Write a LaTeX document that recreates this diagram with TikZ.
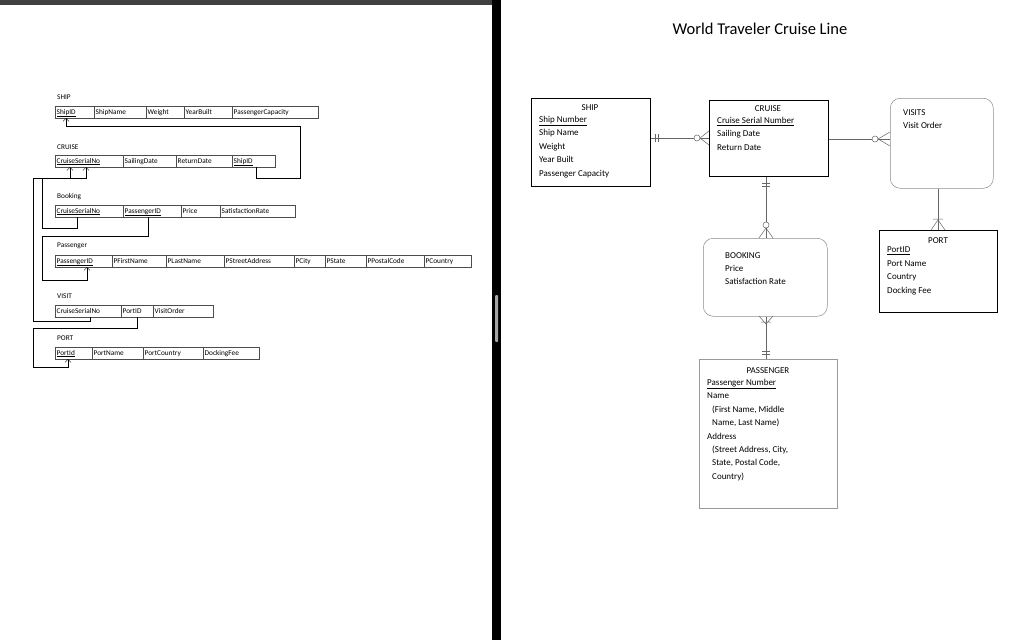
\documentclass[tikz,border=0pt]{standalone}
\usepackage{fontspec}
\setmainfont{Carlito}
\usetikzlibrary{arrows.meta}
\tikzset{
 cellbox/.style={draw=black!70,line width=0.4pt,minimum height=12pt,inner sep=1.5pt,text height=5.5pt,text depth=1.5pt,font=\fontsize{7.3}{8}\selectfont,anchor=west},
 ttl/.style={anchor=west,inner sep=0pt,font=\fontsize{7.3}{8}\selectfont},
 fk/.style={draw=black,line width=0.5pt,-{Straight Barb[length=3pt,width=6pt]}},
 ent/.style={draw=black,line width=0.6pt,anchor=north west,inner sep=0pt},
 soft/.style={draw=black!45,line width=0.5pt,rounded corners=10pt,anchor=north west,inner sep=0pt},
 etxt/.style={anchor=north west,inner sep=0pt,font=\fontsize{9}{13.4}\selectfont,align=left},
 rel/.style={draw=black!60,line width=0.5pt},
}
\newcommand{\ul}[1]{\raisebox{0pt}[\height][0pt]{\underline{#1}}}
\newcommand{\mycell}[5]{\node[cellbox,minimum width=#3pt-#2pt,text width=#3pt-#2pt-3pt] (#1) at (#2,#4) {#5};}
\begin{document}
\begin{tikzpicture}[x=1pt,y=-1pt]
\useasboundingbox (0,0) rectangle (1024,640);
\fill[white] (0,0) rectangle (1024,640);
\fill[black!75] (0,0) rectangle (493,5);
\fill[black] (492,0) rectangle (501,640);
\fill[black!35,rounded corners=1pt] (495,295) rectangle (498,342);
% ---------- left relational schema ----------
\node[ttl] (tship) at (57,97) {SHIP};
\mycell{s1}{55}{94}{112}{\ul{ShipID}}
\mycell{s2}{94}{146}{112}{ShipName}
\mycell{s3}{146}{184}{112}{Weight}
\mycell{s4}{184}{232}{112}{YearBuilt}
\mycell{s5}{232}{318}{112}{PassengerCapacity}
\node[ttl] (tcruise) at (57,147) {CRUISE};
\mycell{c1}{55}{123}{161}{\ul{CruiseSerialNo}}
\mycell{c2}{123}{176}{161}{SailingDate}
\mycell{c3}{176}{232}{161}{ReturnDate}
\mycell{c4}{232}{275}{161}{\ul{ShipID}}
\node[ttl] (tbook) at (57,197) {Booking};
\mycell{b1}{55}{123}{211}{\ul{CruiseSerialNo}}
\mycell{b2}{123}{181}{211}{\ul{PassengerID}}
\mycell{b3}{181}{220}{211}{Price}
\mycell{b4}{220}{295}{211}{SatisfactionRate}
\node[ttl] (tpass) at (57,246) {Passenger};
\mycell{p1}{55}{112}{261}{\ul{PassengerID}}
\mycell{p2}{112}{166}{261}{PFirstName}
\mycell{p3}{166}{224}{261}{PLastName}
\mycell{p4}{224}{294}{261}{PStreetAddress}
\mycell{p5}{294}{325}{261}{PCity}
\mycell{p6}{325}{366}{261}{PState}
\mycell{p7}{366}{424}{261}{PPostalCode}
\mycell{p8}{424}{471}{261}{PCountry}
\node[ttl] (tvisit) at (57,296) {VISIT};
\mycell{v1}{55}{121}{311}{CruiseSerialNo}
\mycell{v2}{121}{153}{311}{PortID}
\mycell{v3}{153}{213}{311}{VisitOrder}
\node[ttl] (tport) at (57,338) {PORT};
\mycell{o1}{55}{92}{353}{\ul{PortId}}
\mycell{o2}{92}{143}{353}{PortName}
\mycell{o3}{143}{203}{353}{PortCountry}
\mycell{o4}{203}{259}{353}{DockingFee}
% FK connectors
\draw[fk] (c4.south -| 256,0) -- (256,178) -- (300,178) -- (300,126) -- (66,126) -- (66,118);
\draw[fk] (b1.south -| 77,0) -- (77,228) -- (42,228) -- (42,178) -- (86,178) -- (86,167);
\draw[fk] (v1.south -| 90,0) -- (90,321) -- (33,321) -- (33,178) -- (70,178) -- (70,167);
\draw[fk] (b2.south -| 148,0) -- (148,236) -- (42,236) -- (42,280) -- (87,280) -- (87,267);
\draw[fk] (v2.south -| 137,0) -- (137,328) -- (33,328) -- (33,367) -- (68,367) -- (68,359);
% ---------- right ER diagram ----------
\node[font=\fontsize{16.5}{18}\selectfont] (title) at (760,29) {World Traveler Cruise Line};
\node[ent,minimum width=119pt,minimum height=88pt] (ship) at (531,98) {};
\node[font=\fontsize{9}{10}\selectfont] (shipt) at (590,108) {SHIP};
\node[etxt] (shipa) at (539,116) {\ul{Ship Number}\\Ship Name\\Weight\\Year Built\\Passenger Capacity};
\node[ent,minimum width=119pt,minimum height=76pt] (cruise) at (709,100) {};
\node[font=\fontsize{9}{10}\selectfont] (cruiset) at (768,109) {CRUISE};
\node[etxt] (cruisea) at (717,117) {\ul{Cruise Serial Number}\\Sailing Date\\Return Date};
\node[soft,minimum width=103pt,minimum height=90pt] (visits) at (890,98) {};
\node[etxt] (visitsa) at (903,109) {VISITS\\Visit Order};
\node[soft,minimum width=124pt,minimum height=78pt] (booking) at (703,238) {};
\node[etxt] (bookinga) at (725,252) {BOOKING\\Price\\Satisfaction Rate};
\node[ent,minimum width=118pt,minimum height=82pt] (port) at (879,230) {};
\node[font=\fontsize{9}{10}\selectfont] (portt) at (938,241) {PORT};
\node[etxt] (porta) at (887,247) {\ul{PortID}\\Port Name\\Country\\Docking Fee};
\node[draw=black!40,line width=0.5pt,anchor=north west,inner sep=0pt,minimum width=138pt,minimum height=149pt] (pass) at (699,359) {};
\node[font=\fontsize{9}{10}\selectfont] (passt) at (768,371) {PASSENGER};
\node[etxt] (passa) at (707,379) {\ul{Passenger Number}\\Name\\\hspace{5pt}(First Name, Middle\\\hspace{5pt}Name, Last Name)\\Address\\\hspace{5pt}(Street Address, City,\\\hspace{5pt}State, Postal Code,\\\hspace{5pt}Country)};
% relationships
\draw[rel] (ship.east |- 0,138) -- (cruise.west |- 0,138);
\draw[rel] (655,134) -- (655,142) (658,134) -- (658,142);
\draw[rel,fill=white] (697,138) circle (3pt);
\draw[rel] (700,138) -- (709,131) (700,138) -- (709,145);
\draw[rel] (cruise.east |- 0,139) -- (visits.west |- 0,139);
\draw[rel,fill=white] (875,139) circle (3pt);
\draw[rel] (878,139) -- (890,132) (878,139) -- (890,146);
\draw[rel] (cruise.south -| 766,0) -- (booking.north -| 766,0);
\draw[rel] (762,183) -- (770,183) (762,186) -- (770,186);
\draw[rel,fill=white] (766,225) circle (3pt);
\draw[rel] (766,228) -- (759,238) (766,228) -- (773,238);
\draw[rel] (booking.south -| 766,0) -- (pass.north -| 766,0);
\draw[rel] (759,316) -- (766,324) (773,316) -- (766,324) (761,322) -- (771,322);
\draw[rel] (762,351) -- (770,351) (762,354) -- (770,354);
\draw[rel] (visits.south -| 938,0) -- (port.north -| 938,0);
\draw[rel] (938,220) -- (931,230) (938,220) -- (945,230) (933,219) -- (943,219);
\end{tikzpicture}
\end{document}
